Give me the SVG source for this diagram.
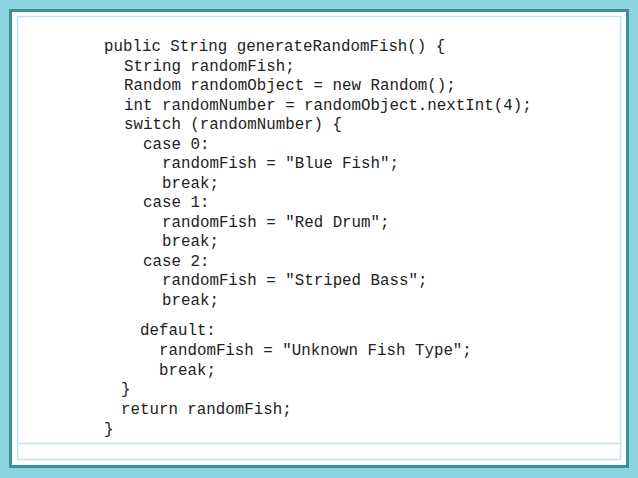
<svg xmlns="http://www.w3.org/2000/svg" width="638" height="478" viewBox="0 0 638 478">
<style>
text{font-family:"Liberation Mono","Courier New",monospace;font-size:15.8px;fill:#222;white-space:pre}
</style>
<rect width="638" height="478" fill="#8bd5e1"/>
<rect x="10.5" y="10.5" width="617" height="456" fill="#fff" stroke="#3f8f99" stroke-width="3"/>
<rect x="17.5" y="16.5" width="603" height="443" fill="none" stroke="#c3e3f3" stroke-width="1.5"/>
<line x1="17" y1="443.5" x2="621" y2="443.5" stroke="#c3e3f3" stroke-width="1.5"/>
<g id="code">
<text x="104" y="51">public String generateRandomFish() {</text>
<text x="124" y="71">String randomFish;</text>
<text x="124" y="90">Random randomObject = new Random();</text>
<text x="124" y="110">int randomNumber = randomObject.nextInt(4);</text>
<text x="124" y="129">switch (randomNumber) {</text>
<text x="143" y="149">case 0:</text>
<text x="162" y="168">randomFish = "Blue Fish";</text>
<text x="162" y="188">break;</text>
<text x="143" y="207">case 1:</text>
<text x="162" y="227">randomFish = "Red Drum";</text>
<text x="162" y="246">break;</text>
<text x="143" y="266">case 2:</text>
<text x="162" y="285">randomFish = "Striped Bass";</text>
<text x="162" y="305">break;</text>
<text x="140" y="335">default:</text>
<text x="159" y="355">randomFish = "Unknown Fish Type";</text>
<text x="159" y="375">break;</text>
<text x="121" y="394">}</text>
<text x="121" y="414">return randomFish;</text>
<text x="104" y="434">}</text>
</g>
</svg>
